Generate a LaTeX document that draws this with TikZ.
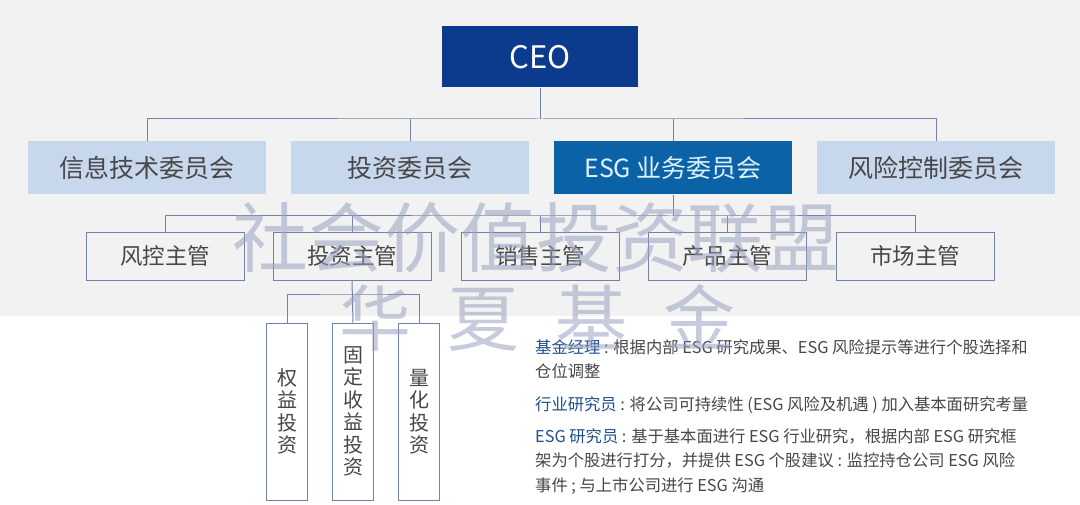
\documentclass[tikz,border=0pt]{standalone}
\usepackage{fontspec}
\newfontfamily\cjk{Noto Sans CJK SC}
\usetikzlibrary{positioning}
\definecolor{bggray}{HTML}{F2F2F2}
\definecolor{ceoblue}{HTML}{0C3B8E}
\definecolor{esgblue}{HTML}{0B62A6}
\definecolor{paleblue}{HTML}{C7D7EC}
\definecolor{linegray}{HTML}{7282A8}
\definecolor{darktext}{HTML}{474747}
\definecolor{labelblue}{HTML}{1F4F91}
\definecolor{esgtext}{HTML}{DDF2FF}
\definecolor{wmark}{HTML}{9AA2C2}
\begin{document}
\begin{tikzpicture}[x=1pt,y=-1pt,
  conn/.style={draw=linegray,line width=1pt},
  ceobox/.style={fill=ceoblue,text=white,minimum width=196pt,minimum height=61pt,font=\cjk\fontsize{31}{36}\selectfont},
  combox/.style={fill=paleblue,text=darktext,minimum width=238pt,minimum height=53pt,font=\cjk\fontsize{25}{29}\selectfont},
  esgbox/.style={combox,fill=esgblue,text=esgtext},
  mgrbox/.style={draw=linegray,line width=0.8pt,fill=bggray,text=darktext,minimum width=158pt,minimum height=48pt,font=\cjk\fontsize{22.5}{26}\selectfont},
  teambox/.style={draw=linegray,line width=0.8pt,fill=white,text=darktext,minimum width=41pt,minimum height=177pt,align=center,font=\cjk\fontsize{20}{22.5}\selectfont},
  note/.style={anchor=north west,inner sep=0pt,align=left,text=darktext,font=\cjk\fontsize{16.3}{24.5}\selectfont}]
\useasboundingbox (0,0) rectangle (1080,505);
\fill[white] (0,0) rectangle (1080,505);
\fill[bggray] (0,0) rectangle (1080,316);

% top level
\node[ceobox] (ceo) at (540,57) {CEO};

% committees
\node[combox] (itc) at (147,168) {信息技术委员会};
\node[combox] (ivc) at (410,168) {投资委员会};
\node[esgbox] (esg) at (673,168) {ESG 业务委员会};
\node[combox] (rmc) at (936,168) {风险控制委员会};

\coordinate (bus1) at (540,119);
\draw[conn] (ceo.south) -- (bus1);
\draw[conn] (itc.north) |- (bus1) -| (rmc.north);
\draw[conn] (ivc.north) -- (ivc.north |- bus1);
\draw[conn] (esg.north) -- (esg.north |- bus1);

% managers
\node[mgrbox] (rsk) at (165,256) {风控主管};
\node[mgrbox] (inv) at (352,256) {投资主管};
\node[mgrbox] (sal) at (540,256) {销售主管};
\node[mgrbox] (prd) at (727,256) {产品主管};
\node[mgrbox] (mkt) at (915,256) {市场主管};

\coordinate (bus2) at (673,216);
\draw[conn] (esg.south) -- (bus2);
\draw[conn] (rsk.north) |- (bus2) -| (mkt.north);
\draw[conn] (inv.north) -- (inv.north |- bus2);
\draw[conn] (sal.north) -- (sal.north |- bus2);
\draw[conn] (prd.north) -- (prd.north |- bus2);

% investment teams
\node[teambox] (eq) at (287,411.5) {权\\益\\投\\资};
\node[teambox] (fi) at (353,411.5) {固\\定\\收\\益\\投\\资};
\node[teambox] (qt) at (419,411.5) {量\\化\\投\\资};

\coordinate (bus3) at (353,295);
\draw[conn] (inv.south) -- (fi.north);
\draw[conn] (eq.north) |- (bus3) -| (qt.north);

% notes
\node[note] (fm) at (535,339) {{\color{labelblue}基金经理} : 根据内部 ESG 研究成果、ESG 风险提示等进行个股选择和\\仓位调整};
\node[note] (ia) at (535,396) {{\color{labelblue}行业研究员} : 将公司可持续性 (ESG 风险及机遇 ) 加入基本面研究考量};
\node[note] (ea) at (535,428) {{\color{labelblue}ESG 研究员} : 基于基本面进行 ESG 行业研究，根据内部 ESG 研究框\\架为个股进行打分，并提供 ESG 个股建议 : 监控持仓公司 ESG 风险\\事件 ; 与上市公司进行 ESG 沟通};

% watermark
\node[text=wmark,opacity=0.55,font=\cjk\fontsize{76}{80}\selectfont] (wm1) at (536,238) {社会价值投资联盟};
\node[text=wmark,opacity=0.55,font=\cjk\fontsize{72}{76}\selectfont] (wm2) at (537,318) {华\hspace{36pt}夏\hspace{36pt}基\hspace{36pt}金};
\end{tikzpicture}
\end{document}
